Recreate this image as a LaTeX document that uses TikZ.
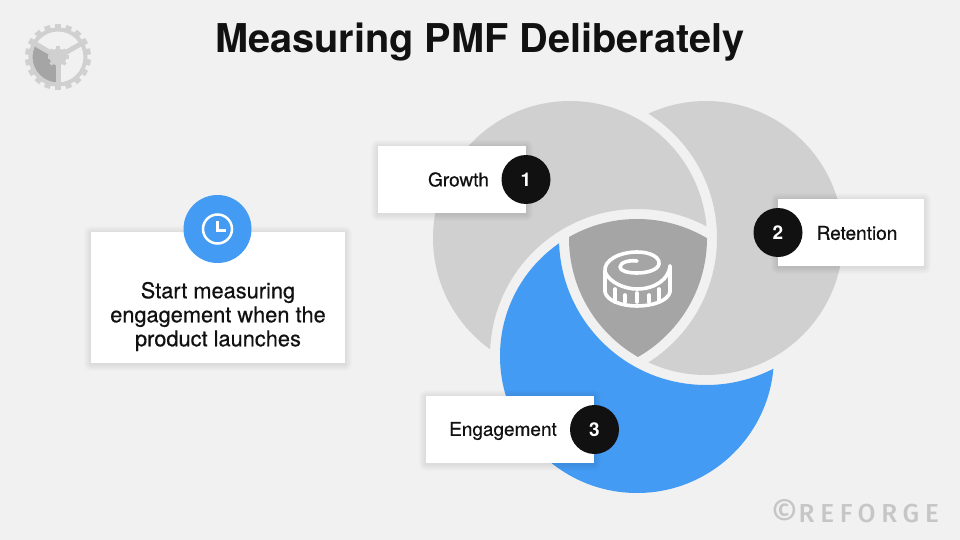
\documentclass[tikz,border=0pt]{standalone}
\usepackage{fontspec}
\setmainfont{TeX Gyre Heros}[FakeBold=0.5]
\newfontfamily\titlefont{TeX Gyre Heros Bold}
\newfontfamily\logofont[LetterSpace=22]{Fira Sans Medium}
\definecolor{bggray}{HTML}{F1F1F1}
\definecolor{petalgray}{HTML}{D0D0D0}
\definecolor{coregray}{HTML}{A5A5A5}
\definecolor{petalblue}{HTML}{439BF3}
\definecolor{darkdot}{HTML}{111111}
\definecolor{logogray}{HTML}{C6C6C6}
\tikzset{
    card/.style={fill=white},
    cardshade/.style={fill=black, fill opacity=0.012},
    numdot/.style={circle, fill=darkdot, minimum size=49pt, text=white, font=\fontsize{19}{19}\titlefont},
    label/.style={font=\fontsize{19}{19}\selectfont, text=darkdot},
    icon/.style={draw=white, line width=3.6pt, line cap=round, line join=round},
}
\def\rr{137}
\def\rb{147}
\begin{document}
\begin{tikzpicture}[x=1pt, y=-1pt]
    \useasboundingbox (0,0) rectangle (960,540);
    \fill[bggray] (0,0) rectangle (960,540);
    \coordinate (G) at (570,238);
    \coordinate (R) at (706,238);
    \coordinate (E) at (637,356);
    % three petals, each cut by the gap round the next one
    \begin{scope}[even odd rule]
        \clip (0,0) rectangle (960,540) (E) circle (\rb);
        \fill[petalgray] (G) circle (\rr);
    \end{scope}
    \begin{scope}[even odd rule]
        \clip (0,0) rectangle (960,540) (G) circle (\rb);
        \fill[petalgray] (R) circle (\rr);
    \end{scope}
    \begin{scope}[even odd rule]
        \clip (0,0) rectangle (960,540) (R) circle (\rb);
        \fill[petalblue] (E) circle (\rr);
    \end{scope}
    \begin{scope}
        \clip (G) circle (\rr);
        \clip (R) circle (\rr);
        \fill[coregray] (E) circle (\rr);
    \end{scope}
    % tape measure
    \draw[icon] (605,272) .. controls (603,260) and (620,252) .. (637,252) .. controls (650,252) and (660,257) .. (659,264) .. controls (658,270) and (647,273) .. (637,273) .. controls (628,273) and (620,271) .. (620,267) .. controls (620,262) and (630,260) .. (637,261);
    \draw[icon] (605,272) .. controls (610,283) and (625,289) .. (637,289) .. controls (655,289) and (669,279) .. (670,266);
    \draw[icon] (605,272) -- (605,292) .. controls (607,301) and (622,306) .. (637,306) .. controls (652,306) and (668,301) .. (670,292) -- (670,266);
    \foreach \tx/\ty in {615/289, 625/295, 637/293, 649/295, 659/289}
        \draw[icon] (\tx,\ty) -- (\tx,302);
    % cards
    \foreach \cname/\cx/\cy/\cw/\ch in {growth/452/179.5/148/67, retention/851/232.5/146/67, engagement/510/429.5/168/67, start/218/297.5/254/131}{
        \foreach \s in {7,...,1}
            \fill[cardshade, rounded corners=\s] ({\cx-\cw/2-\s},{\cy-\ch/2-\s+1}) rectangle ({\cx+\cw/2+\s},{\cy+\ch/2+\s+1});
        \node[card, minimum width=\cw pt, minimum height=\ch pt] (\cname) at (\cx,\cy) {};
    }
    \node[label] at (458.5,179.5) {Growth};
    \node[label] at (857,233) {Retention};
    \node[label] at (503,431) {Engagement};
    \node[numdot] (one) at (526,179.5) {1};
    \node[numdot] (two) at (778,232.5) {2};
    \node[numdot] (three) at (594.5,429.5) {3};
    \node[align=center, text=darkdot, font=\fontsize{21.8}{24}\selectfont] at (218,316.5) {Start measuring\\engagement when the\\product launches};
    % clock
    \node[circle, fill=petalblue, minimum size=68pt] (clock) at (217.5,229) {};
    \draw[white, line width=2.5pt] (clock) circle (14.5);
    \draw[white, line width=2.5pt, line join=miter] (clock.center) ++(0,-8) -- ++(0,9.5) -- ++(8,0);
    % title
    \node[font=\fontsize{39.7}{40}\titlefont, text=darkdot] (title) at (480,42) {Measuring PMF Deliberately};
    % gear logo
    \begin{scope}[shift={(58,57)}]
        \fill[coregray] (0,0) -- (90:27) arc (90:210:27) -- cycle;
        \draw[petalgray, line width=4pt] (0,0) circle (27.5);
        \foreach \a in {0,20,...,340}
            \fill[petalgray, rotate=\a] (-3,-33) rectangle (3,-28);
        \foreach \a in {90,-30,210}
            \draw[petalgray, line width=5pt] (0,0) -- (\a:28);
        \fill[petalgray] (0,0) circle (8.5);
        \foreach \a in {0,45,...,315}
            \fill[petalgray, rotate=\a] (-1.7,-10.5) rectangle (1.7,-8);
    \end{scope}
    % mark
    \node[anchor=east, inner sep=0pt, text=logogray, font=\fontsize{26}{26}\logofont] (mark) at (939,512) {\raisebox{-2.5pt}{\fontsize{33}{33}\selectfont ©}REFORGE};
\end{tikzpicture}
\end{document}
